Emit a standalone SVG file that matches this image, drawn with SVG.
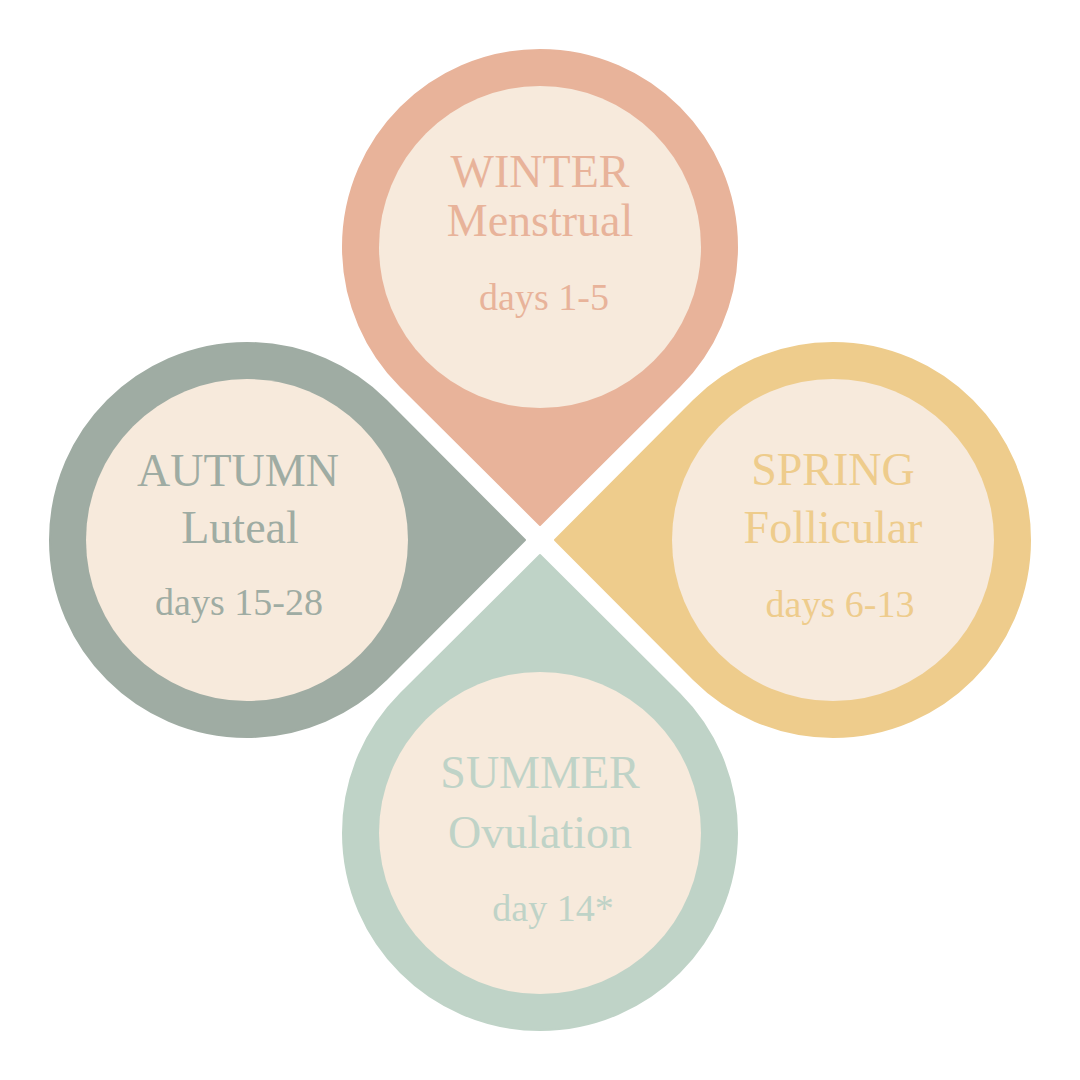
<svg xmlns="http://www.w3.org/2000/svg" width="1080" height="1080" viewBox="0 0 1080 1080">
<style>
.in{fill:#F7EADC}
text{font-family:"Liberation Serif","DejaVu Serif",serif;text-anchor:middle}
.t{font-size:46px}
.d{font-size:38px}
</style>
<rect width="1080" height="1080" fill="#fff"/>
<g id="winter">
<path d="M400.7,386.3 A197,197 0 1 1 679.3,386.3 L540,525 Z" fill="#E8B39A" stroke="#E8B39A" stroke-linejoin="round" stroke-width="2"/>
<circle class="in" cx="540" cy="247" r="161"/>
<g fill="#E8B39A"><text class="t" x="540" y="187">WINTER</text><text class="t" x="540" y="236">Menstrual</text><text class="d" x="544" y="310">days 1-5</text></g>
</g>
<g id="autumn">
<path d="M386.3,679.3 A197,197 0 1 1 386.3,400.7 L525,540 Z" fill="#9FACA3" stroke="#9FACA3" stroke-linejoin="round" stroke-width="2"/>
<circle class="in" cx="247" cy="540" r="161"/>
<g fill="#9FACA3"><text class="t" x="238" y="486">AUTUMN</text><text class="t" x="240" y="543">Luteal</text><text class="d" x="239" y="615">days 15-28</text></g>
</g>
<g id="spring">
<path d="M693.7,400.7 A197,197 0 1 1 693.7,679.3 L555,540 Z" fill="#EECC8C" stroke="#EECC8C" stroke-linejoin="round" stroke-width="2"/>
<circle class="in" cx="833" cy="540" r="161"/>
<g fill="#EECC8C"><text class="t" x="833" y="485">SPRING</text><text class="t" x="833" y="543">Follicular</text><text class="d" x="840" y="617">days 6-13</text></g>
</g>
<g id="summer">
<path d="M679.3,693.7 A197,197 0 1 1 400.7,693.7 L540,555 Z" fill="#BFD3C7" stroke="#BFD3C7" stroke-linejoin="round" stroke-width="2"/>
<circle class="in" cx="540" cy="833" r="161"/>
<g fill="#BFD3C7"><text class="t" x="540" y="788">SUMMER</text><text class="t" x="540" y="848">Ovulation</text><text class="d" x="553" y="921">day 14*</text></g>
</g>
<g id="connectors"/>
</svg>
